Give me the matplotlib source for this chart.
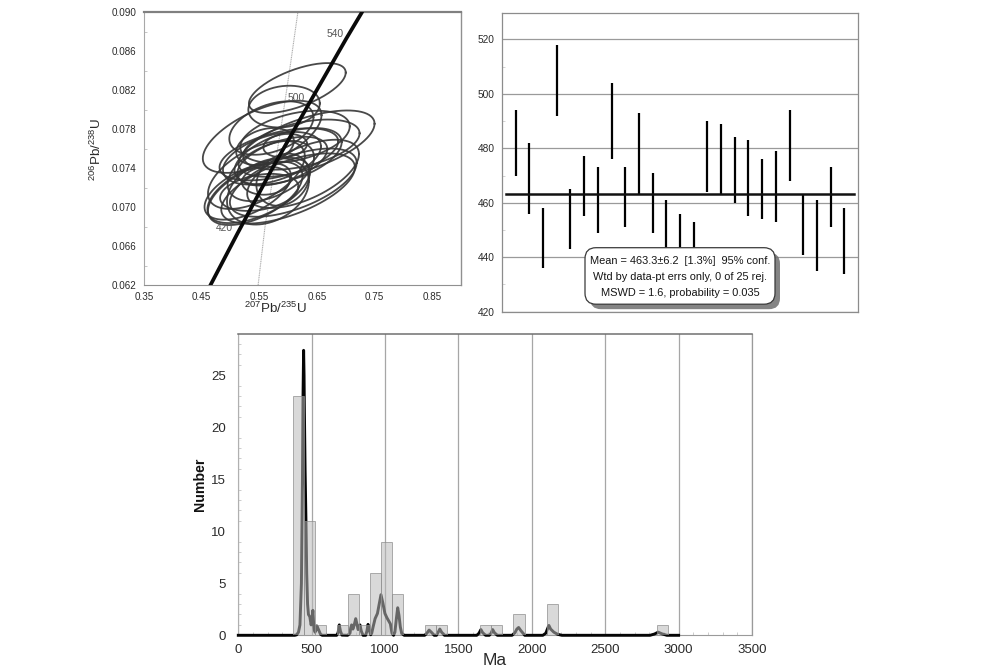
import numpy as np
import matplotlib
matplotlib.use("Agg")
import matplotlib.pyplot as plt
from matplotlib.patches import FancyBboxPatch

plt.rcParams['font.family'] = ['Liberation Sans', 'DejaVu Sans']
plt.rcParams['mathtext.default'] = 'regular'

# ── Concordia panel data ─────────────────────────────────────────────────────
concordia_x = [0.4654, 0.5123, 0.5730, 0.6363, 0.7012, 0.7274]
concordia_y = [0.0620, 0.0673, 0.0740, 0.0806, 0.0873, 0.0899]
thin_line_x = [0.548, 0.560, 0.575, 0.590, 0.605, 0.617]
thin_line_y = [0.0620, 0.0680, 0.0735, 0.0790, 0.0850, 0.0900]
concordia_ticks = [('540', 0.681, 0.0877), ('500', 0.6146, 0.0812), ('420', 0.490, 0.0678)]

ell_cx = [0.616, 0.593, 0.555, 0.571, 0.632, 0.612, 0.623, 0.584, 0.572, 0.626, 0.609, 0.600,
          0.549, 0.543, 0.530, 0.565, 0.591, 0.562, 0.560, 0.570, 0.550, 0.595, 0.600, 0.590, 0.545]
ell_sx = [0.084, 0.062, 0.103, 0.073, 0.118, 0.095, 0.101, 0.103, 0.085, 0.097, 0.110, 0.116,
          0.089, 0.082, 0.075, 0.071, 0.046, 0.042, 0.050, 0.075, 0.068, 0.038, 0.093, 0.078, 0.084]
ell_cy = [0.0822, 0.0803, 0.0772, 0.0781, 0.0765, 0.0772, 0.0764, 0.0754, 0.0750, 0.0734, 0.0725, 0.0719,
          0.0717, 0.0714, 0.0716, 0.0716, 0.0728, 0.0727, 0.0762, 0.0737, 0.0715, 0.0763, 0.0752, 0.0747, 0.0733]
ell_sy = [0.00256, 0.00214, 0.00370, 0.00274, 0.00340, 0.00267, 0.00257, 0.00267, 0.00270, 0.00350, 0.00350, 0.00360,
          0.00335, 0.00325, 0.00290, 0.00340, 0.00267, 0.00144, 0.00190, 0.00310, 0.00190, 0.00120, 0.00290, 0.00250, 0.00350]
ell_rho = [0.62, 0.15, 0.60, 0.40, 0.60, 0.40, 0.45, 0.50, 0.45, 0.58, 0.58, 0.60,
           0.58, 0.55, 0.55, 0.30, 0.20, 0.10, 0.30, 0.45, 0.30, 0.15, 0.50, 0.50, 0.55]

# ── Weighted mean panel data ─────────────────────────────────────────────────
age_low = [470, 456, 436, 492, 443, 455, 449, 476, 451, 463, 449, 435, 432,
           430, 464, 463, 460, 455, 454, 453, 468, 441, 435, 451, 434]
age_high = [494, 482, 458, 518, 465, 477, 473, 504, 473, 493, 471, 461, 456,
            453, 490, 489, 484, 483, 476, 479, 494, 463, 461, 473, 458]
mean_age = 463.3
box_lines = ['Mean = 463.3\u00b16.2  [1.3%]  95% conf.',
             'Wtd by data-pt errs only, 0 of 25 rej.',
             'MSWD = 1.6, probability = 0.035']

# ── Histogram panel data ─────────────────────────────────────────────────────
bin_left = [375, 450, 525, 675, 750, 825, 900, 975, 1050, 1275, 1350, 1650, 1725, 1875, 2100, 2850]
bin_count = [23, 11, 1, 1, 4, 1, 6, 9, 4, 1, 1, 1, 1, 2, 3, 1]
bin_width = 75

pdf_age = [0, 385, 398, 410, 420, 430, 437, 441, 445, 448, 450, 455, 461, 466, 472, 478, 487, 496, 502, 508,
           513, 518, 523, 529, 535, 545, 560, 572,
           670, 680, 688, 696, 706, 745, 761, 766, 772, 781, 790, 800, 808, 816, 822, 829, 838, 850,
           868, 876, 884, 892, 902, 909, 920, 932, 948, 960, 972, 985, 999, 1012, 1024, 1036, 1047, 1058,
           1067, 1077, 1086, 1095, 1104, 1113, 1130,
           1270, 1285, 1300, 1315, 1335, 1350, 1362, 1373, 1385, 1405,
           1625, 1640, 1653, 1665, 1685, 1710, 1722, 1733, 1745, 1765,
           1865, 1885, 1898, 1910, 1925, 1952,
           2075, 2095, 2106, 2116, 2128, 2150, 2175, 2205,
           2805, 2835, 2861, 2885, 2920, 3000]
pdf_n = [0, 0, 0.05, 0.3, 1.0, 5.0, 15.0, 23.0, 27.4, 25.0, 22.0, 16.0, 11.0, 6.0, 3.0, 2.0, 1.8, 1.0, 1.4, 2.4,
         1.2, 0.5, 0.3, 0.5, 0.9, 0.6, 0.1, 0,
         0, 0.25, 1.0, 0.4, 0.02, 0, 0.2, 0.7, 1.0, 0.6, 1.0, 1.6, 1.1, 0.55, 0.7, 1.0, 0.4, 0,
         0, 0.4, 1.05, 0.5, 0.05, 0.2, 0.9, 1.6, 2.1, 3.0, 3.9, 3.1, 2.1, 1.7, 1.4, 1.1, 0.2, 0,
         0.3, 1.6, 2.65, 1.9, 0.8, 0.2, 0,
         0, 0.2, 0.5, 0.3, 0, 0, 0.3, 0.6, 0.3, 0,
         0, 0.2, 0.55, 0.25, 0, 0, 0.2, 0.55, 0.25, 0,
         0, 0.25, 0.6, 0.75, 0.45, 0,
         0, 0.2, 0.6, 0.95, 0.6, 0.3, 0.1, 0,
         0, 0.12, 0.3, 0.15, 0, 0]

W, H = 998, 668
TXT = '#2a2a2a'


def px_axes(left, top, right, bottom):
    return fig.add_axes([left / W, 1 - bottom / H, (right - left) / W, (bottom - top) / H])


fig = plt.figure(figsize=(W / 100, H / 100), dpi=100)

# ── Panel 1: concordia ───────────────────────────────────────────────────────
ax1 = px_axes(144, 12, 461, 285)
ax1.set_xlim(0.35, 0.90)
ax1.set_ylim(0.062, 0.090)
t = np.linspace(0, 2 * np.pi, 160)
for cx, sx, cy, sy, rho in zip(ell_cx, ell_sx, ell_cy, ell_sy, ell_rho):
    ex = cx + sx * np.cos(t)
    ey = cy + sy * (rho * np.cos(t) + np.sqrt(1 - rho ** 2) * np.sin(t))
    ax1.plot(ex, ey, color='#353535', lw=1.3, alpha=0.9, zorder=3)
ax1.plot(thin_line_x, thin_line_y, color='#adadad', lw=0.8, ls=(0, (1, 0.6)), zorder=2)
ax1.plot(concordia_x, concordia_y, color='#0a0a0a', lw=2.7, zorder=4)
for label, lx, ly in concordia_ticks:
    ax1.text(lx, ly, label, fontsize=7.4, color='#555555', ha='center', va='center', zorder=5)
ax1.set_xticks([0.35, 0.45, 0.55, 0.65, 0.75, 0.85])
ax1.set_xticklabels(['0.35', '0.45', '0.55', '0.65', '0.75', '0.85'])
ax1.set_yticks(np.arange(0.062, 0.0901, 0.004))
ax1.set_yticklabels(['0.062', '0.066', '0.070', '0.074', '0.078', '0.082', '0.086', '0.090'])
ax1.set_yticks(np.arange(0.064, 0.09, 0.004), minor=True)
ax1.tick_params(axis='both', labelsize=7.1, labelcolor=TXT, length=0, pad=5)
ax1.tick_params(axis='y', pad=5.5)
ax1.tick_params(axis='y', which='minor', length=2, color='#bbbbbb', direction='in')
for side, col, lw in [('top', '#808080', 1.6), ('right', '#909090', 1.0), ('left', '#a8a8a8', 0.8), ('bottom', '#909090', 0.8)]:
    ax1.spines[side].set_color(col)
    ax1.spines[side].set_linewidth(lw)

# ── Panel 2: weighted mean bars ──────────────────────────────────────────────
ax2 = px_axes(502, 12.7, 858, 311.7)
ax2.set_xlim(0, 26)
ax2.set_ylim(420, 529.8)
ax2.set_axisbelow(True)
ax2.yaxis.grid(True, color='#9a9a9a', lw=0.9)
positions = np.arange(1, len(age_low) + 1)
ax2.vlines(positions, age_low, age_high, color='black', lw=1.6, zorder=3)
ax2.plot([0.32, 25.7], [mean_age, mean_age], color='#111111', lw=1.8, zorder=4)
ax2.set_xticks([])
ax2.set_yticks([420, 440, 460, 480, 500, 520])
ax2.set_yticks([430, 450, 470, 490, 510], minor=True)
ax2.tick_params(axis='y', labelsize=7.3, labelcolor=TXT, length=0, pad=5.5)
ax2.tick_params(axis='y', which='minor', length=2, color='#cccccc', direction='in')
for side in ax2.spines:
    ax2.spines[side].set_color('#8c8c8c')
    ax2.spines[side].set_linewidth(0.9)

# ── Panel 3: histogram with probability curve ────────────────────────────────
ax3 = px_axes(238.3, 334.3, 752, 635.3)
ax3.set_xlim(0, 3500)
ax3.set_ylim(0, 28.94)
ax3.set_axisbelow(True)
ax3.xaxis.grid(True, color='#a6a6a6', lw=0.9)
ax3.plot(pdf_age, pdf_n, color='#050505', lw=2.1, solid_joinstyle='round', zorder=3, clip_on=False)
ax3.bar(bin_left, bin_count, width=bin_width, align='edge', facecolor=(0.725, 0.725, 0.725, 0.54),
        edgecolor=(0.55, 0.55, 0.55, 0.7), linewidth=0.7, zorder=4)
ax3.set_xticks(np.arange(0, 3501, 500))
ax3.set_xticks(np.arange(0, 3501, 100), minor=True)
ax3.set_yticks([0, 5, 10, 15, 20, 25])
ax3.set_yticks(np.arange(0, 29, 1), minor=True)
ax3.tick_params(axis='both', labelsize=9.5, labelcolor=TXT, length=0)
ax3.tick_params(axis='x', pad=6)
ax3.tick_params(axis='y', pad=9)
ax3.tick_params(axis='both', which='minor', length=2, color='#c4c4c4', direction='in')
for side, col, lw in [('top', '#707070', 1.1), ('right', '#9a9a9a', 0.9), ('left', '#b0b0b0', 0.8), ('bottom', '#9a9a9a', 0.8)]:
    ax3.spines[side].set_color(col)
    ax3.spines[side].set_linewidth(lw)
ax3.set_xlabel('Ma', fontsize=12.5, color=TXT, labelpad=-2)
ax3.set_ylabel('Number', fontsize=10.2, fontweight='bold', color='#111111', labelpad=3)

# ── Axis labels and statistics box, laid out in image pixels ─────────────────
ov = fig.add_axes([0, 0, 1, 1], zorder=10)
ov.set_xlim(0, W)
ov.set_ylim(H, 0)
ov.axis('off')
ov.text(275.5, 308, r'$^{207}$Pb/$^{235}$U', fontsize=9.6, color=TXT, ha='center', va='center')
ov.text(96, 150, r'$^{206}$Pb/$^{238}$U', fontsize=9.6, color=TXT, ha='center', va='center', rotation=90)
round_box = 'round,pad=0,rounding_size=11'
ov.add_patch(FancyBboxPatch((590, 252.7), 190, 56.5, boxstyle=round_box, fc='#6f6f6f', ec='none', alpha=0.85))
ov.add_patch(FancyBboxPatch((585, 247.7), 190, 56.5, boxstyle=round_box, fc='white', ec='#3a3a3a', lw=0.9))
for line, ty in zip(box_lines, [260.5, 277, 293]):
    ov.text(680, ty, line, fontsize=7.9, color='#151515', ha='center', va='center')

fig.savefig('out.png', dpi=100)
